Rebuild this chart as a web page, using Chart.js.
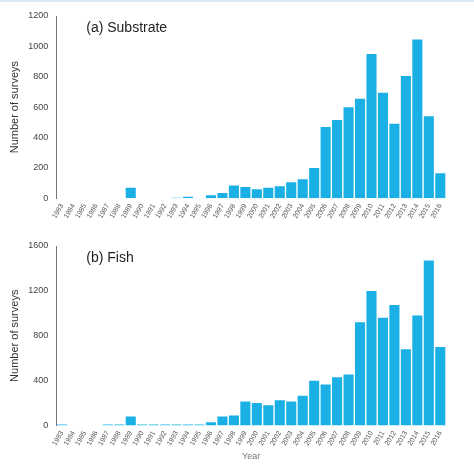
<!DOCTYPE html>
<html>
<head>
<meta charset="utf-8">
<script src="https://cdn.jsdelivr.net/npm/chart.js@4"></script>
<style>
  body { margin: 0; background: #fff; border-top: 2px solid #dce8f4; }
  .box { position: relative; width: 474px; height: 230px; }
</style>
</head>
<body>
<div class="box"><canvas id="substrateChart"></canvas></div>
<div class="box"><canvas id="fishChart"></canvas></div>
<script>
var years = [];
for (var y = 1983; y <= 2016; y++) years.push(String(y));

var substrate = [0, 0, 0, 0, 0, 0, 70, 0, 0, 0, 3, 10, 2, 20, 35, 85, 75, 60, 70, 80,
                 105, 125, 200, 470, 515, 600, 655, 950, 695, 490, 805, 1045, 540, 165];
var fish = [10, 0, 0, 0, 10, 10, 80, 10, 10, 10, 10, 10, 10, 30, 80, 90, 215, 200, 180, 225,
            215, 265, 400, 365, 430, 455, 920, 1200, 960, 1075, 680, 980, 1470, 700];

// draws the panel label inside the plot area
var panelLabel = {
    id: 'panelLabel',
    afterDraw: function (chart) {
        var ctx = chart.ctx;
        ctx.save();
        ctx.font = '14px "Liberation Sans", Arial';
        ctx.fillStyle = '#222';
        ctx.textBaseline = 'middle';
        ctx.fillText(chart.options.plugins.panelLabel.text, chart.chartArea.left + 30, chart.chartArea.top + 12);
        ctx.restore();
    }
};

function makeChart(id, values, max, step, label, showXTitle) {
    var ctx = document.getElementById(id).getContext('2d');
    return new Chart(ctx, {
        type: 'bar',
        plugins: [panelLabel],
        data: {
            labels: years,
            datasets: [{
                data: values,
                backgroundColor: '#1ab0e6',
                categoryPercentage: 1.0,
                barPercentage: 0.88
            }]
        },
        options: {
            responsive: true,
            maintainAspectRatio: false,
            animation: false,
            layout: { padding: { top: 14, right: 28, left: 4, bottom: showXTitle ? 0 : 8 } },
            plugins: {
                legend: { display: false },
                tooltip: { enabled: false },
                panelLabel: { text: label }
            },
            scales: {
                x: {
                    grid: { display: false, drawTicks: false },
                    border: { display: false },
                    ticks: {
                        autoSkip: false, maxRotation: 60, minRotation: 60,
                        font: { size: 7, family: 'Liberation Sans' }, color: '#555', padding: 4
                    },
                    title: { display: showXTitle, text: 'Year', font: { size: 9 }, color: '#777', padding: 0 }
                },
                y: {
                    min: 0, max: max,
                    grid: { display: false, drawTicks: true, tickLength: 5, color: '#777' },
                    border: { display: true, color: '#777' },
                    ticks: {
                        stepSize: step, font: { size: 9, family: 'Liberation Sans' }, color: '#444',
                        callback: function (v) { return String(v); }
                    },
                    title: { display: true, text: 'Number of surveys', font: { size: 11, family: 'Liberation Sans' }, color: '#333' }
                }
            }
        }
    });
}

makeChart('substrateChart', substrate, 1200, 200, '(a) Substrate', false);
makeChart('fishChart', fish, 1600, 400, '(b) Fish', true);
</script>
</body>
</html>
